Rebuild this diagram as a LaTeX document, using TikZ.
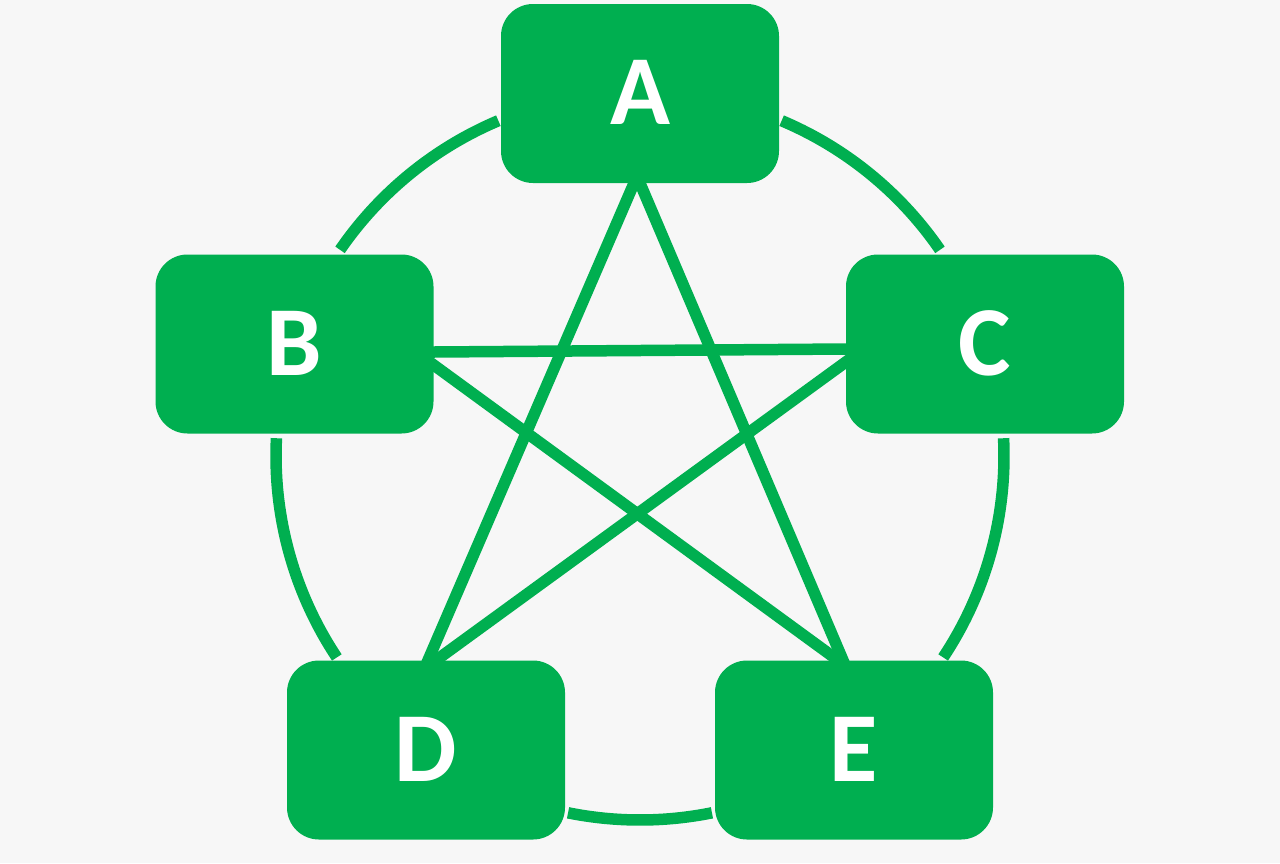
\documentclass[tikz,border=0pt]{standalone}
\usepackage{fontspec}
\setmainfont{Carlito}
\usetikzlibrary{backgrounds}
\definecolor{gr}{HTML}{00AF50}
\definecolor{bg}{HTML}{F7F7F7}
\begin{document}
\begin{tikzpicture}[x=1pt,y=-1pt,
  box/.style={rectangle, fill=gr, minimum width=278pt, minimum height=179pt,
    rounded corners=32pt, inner sep=0pt, text=white,
    font=\bfseries\fontsize{99}{99}\selectfont},
  link/.style={draw=gr, line width=11.5pt, line cap=butt, shorten <=-8pt, shorten >=-8pt},
  ring/.style={draw=gr, line width=11.5pt, line cap=butt}]
\useasboundingbox (0,0) rectangle (1280,863);
\node[box] (A) at (640,93.5) {\raisebox{2pt}{A}};
\node[box] (B) at (294.5,344) {\raisebox{2pt}{B}};
\node[box] (C) at (985,344) {\raisebox{2pt}{C}};
\node[box] (D) at (426,750) {\raisebox{2pt}{D}};
\node[box] (E) at (854,750) {\raisebox{2pt}{E}};
\coordinate (O) at (640,456);
\begin{pgfonlayer}{background}
\fill[bg] (0,0) rectangle (1280,863);
\draw[link] ([xshift=-6pt]A.south) -- ([xshift=2pt]D.north);
\draw[link] ([xshift=0pt]A.south) -- ([xshift=-11pt]E.north);
\draw[link] ([yshift=-8pt]B.east) -- ([yshift=-5pt]C.west);
\draw[link] ([yshift=-21pt]B.east) -- ([xshift=-16pt]E.north);
\draw[link] ([yshift=-18pt]C.west) -- ([xshift=10pt]D.north);
\draw[ring] ([shift={(-112.9:364)}]O) arc[start angle=-112.9, end angle=-145.5, radius=364];
\draw[ring] ([shift={(-177.2:364)}]O) arc[start angle=-177.2, end angle=-213.6, radius=364];
\draw[ring] ([shift={(-258.6:364)}]O) arc[start angle=-258.6, end angle=-281.4, radius=364];
\draw[ring] ([shift={(-326.4:364)}]O) arc[start angle=-326.4, end angle=-362.8, radius=364];
\draw[ring] ([shift={(-34.5:364)}]O) arc[start angle=-34.5, end angle=-67.1, radius=364];
\end{pgfonlayer}
\end{tikzpicture}
\end{document}
